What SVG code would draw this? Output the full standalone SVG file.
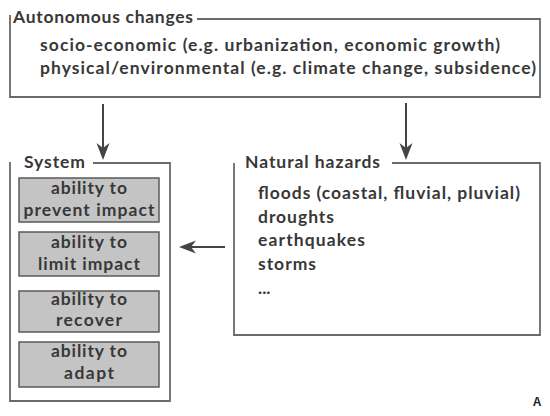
<svg xmlns="http://www.w3.org/2000/svg" width="550" height="416" viewBox="0 0 550 416">
<defs>
<style>
.frame{fill:none;stroke:#6a6a6a;stroke-width:1.8}
.cap{fill:#c4c4c4;stroke:#5a5a5a;stroke-width:1.5}
text{font-family:Lato,"Open Sans","Liberation Sans",sans-serif;font-weight:bold;font-size:17.5px;fill:#383838}
.c{text-anchor:middle}
.conn{fill:none;stroke:#444;stroke-width:2}
</style>
<marker id="ah" viewBox="-1 -8 19 16" markerWidth="19" markerHeight="16" refX="9" refY="0" orient="auto" markerUnits="userSpaceOnUse">
<path d="M0,-6.5 L17,0 L0,6.5 L5,0 Z" fill="#444"/>
</marker>
</defs>
<rect width="550" height="416" fill="#fff"/>
<g id="autonomous">
<path class="frame" d="M10,15 L10,97 L540,97 L540,19 L197,19"/>
<text x="13" y="23" textLength="180">Autonomous changes</text>
<text x="40" y="51" textLength="460">socio-economic (e.g. urbanization, economic growth)</text>
<text x="40" y="74" textLength="496">physical/environmental (e.g. climate change, subsidence)</text>
</g>
<g id="system">
<path class="frame" d="M10,162 L10,401 L170,401 L170,163 L93,163"/>
<text x="24" y="168" textLength="61">System</text>
<rect class="cap" x="19" y="178" width="140" height="44"/>
<text class="c" x="89" y="194" textLength="76">ability to</text>
<text class="c" x="89" y="216" textLength="131">prevent impact</text>
<rect class="cap" x="19" y="232" width="140" height="44"/>
<text class="c" x="89" y="248" textLength="76">ability to</text>
<text class="c" x="89" y="270" textLength="102">limit impact</text>
<rect class="cap" x="19" y="291" width="140" height="41"/>
<text class="c" x="89" y="305" textLength="76">ability to</text>
<text class="c" x="89" y="326" textLength="66">recover</text>
<rect class="cap" x="19" y="342" width="140" height="45"/>
<text class="c" x="89" y="357" textLength="76">ability to</text>
<text class="c" x="89" y="379" textLength="50">adapt</text>
</g>
<g id="hazards">
<path class="frame" d="M234,163 L234,335 L540,335 L540,163 L392,163"/>
<text x="245" y="168" textLength="135">Natural hazards</text>
<text x="258" y="199" textLength="262">floods (coastal, fluvial, pluvial)</text>
<text x="258" y="223" textLength="76">droughts</text>
<text x="258" y="246" textLength="107">earthquakes</text>
<text x="258" y="270" textLength="58">storms</text>
<text x="258" y="294">...</text>
</g>
<g id="connectors">
<path class="conn" d="M103,104 L103,152" marker-end="url(#ah)"/>
<path class="conn" d="M406,103 L406,152" marker-end="url(#ah)"/>
<path class="conn" d="M225,247 L187,247" marker-end="url(#ah)"/>
</g>
<text x="537" y="406" class="c" style="font-family:'Liberation Sans',Arial,sans-serif;font-size:12px;fill:#222">A</text>
</svg>
